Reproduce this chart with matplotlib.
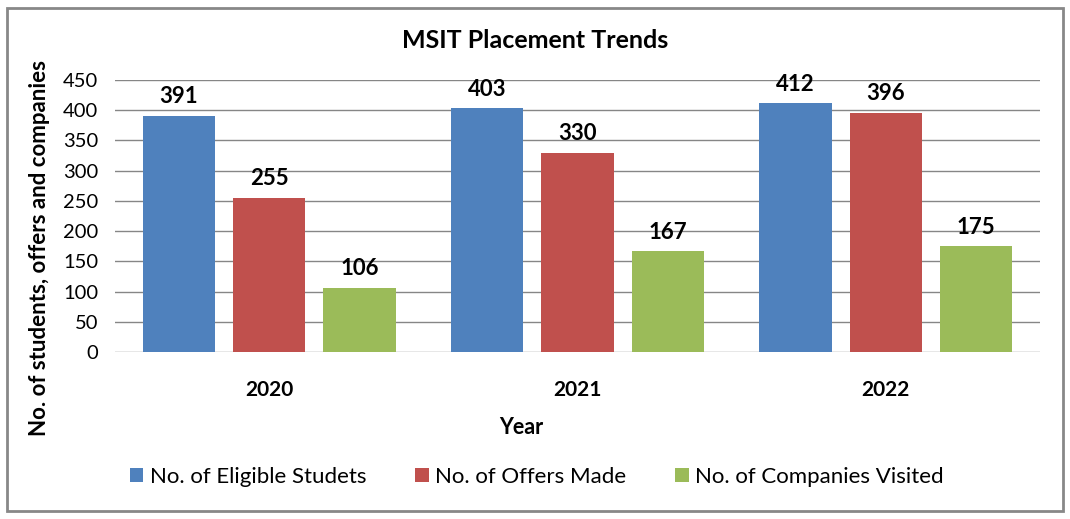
import numpy as np
import matplotlib
matplotlib.use('Agg')
import matplotlib.pyplot as plt
from matplotlib.patches import Rectangle
from matplotlib.ticker import MultipleLocator

years = ['2020', '2021', '2022']
eligible = [391, 403, 412]
offers = [255, 330, 396]
companies = [106, 167, 175]
series_names = ['No. of Eligible Studets', 'No. of Offers Made', 'No. of Companies Visited']
colors = ['#4F81BD', '#C0504D', '#9BBB59']

plt.rcParams['font.family'] = ['Lato', 'DejaVu Sans']


def plot_data():
    fig = plt.figure(figsize=(10.7, 5.19), dpi=100)
    ax = fig.add_axes([115 / 1070, 1 - 352 / 519, 925 / 1070, 272 / 519])

    x = np.arange(len(years))
    width = 0.234
    offsets = [-0.293, 0, 0.293]
    for vals, off, col, name in zip([eligible, offers, companies], offsets, colors, series_names):
        bars = ax.bar(x + off, vals, width, color=col, label=name, zorder=3)
        for b, v in zip(bars, vals):
            ax.text(b.get_x() + b.get_width() / 2, v + 14, str(v), ha='center', va='bottom',
                    fontsize=16, fontweight='bold', zorder=5)

    ax.set_xlim(-0.5, 2.5)
    ax.set_ylim(0, 450)
    ax.yaxis.set_major_locator(MultipleLocator(50))
    ax.grid(axis='y', color='#868686', linewidth=1, zorder=0)
    ax.set_xticks(x)
    ax.set_xticklabels(years, fontsize=15, fontweight='bold')
    ax.tick_params(axis='x', length=0, pad=20)
    ax.tick_params(axis='y', length=0, labelsize=14.5, pad=12)
    for s in ax.spines.values():
        s.set_visible(False)

    fig.text(521 / 1070, 1 - 428 / 519, 'Year', ha='center', va='center',
             fontsize=15.5, fontweight='bold')
    fig.text(40 / 1070, 1 - 248 / 519, 'No. of students, offers and companies', ha='center',
             va='center', rotation=90, fontsize=16, fontweight='bold')
    fig.text(535 / 1070, 1 - 40 / 519, 'MSIT Placement Trends', ha='center', va='center',
             fontsize=18, fontweight='bold')

    fig.legend(loc='center', bbox_to_anchor=(537 / 1070, 1 - 477 / 519), ncol=3, frameon=False,
               fontsize=16, handlelength=0.6, handleheight=0.6, handletextpad=0.3, columnspacing=2.2)

    fig.patches.append(Rectangle((7 / 1070, 8 / 519), 1056 / 1070, 503 / 519, transform=fig.transFigure,
                                 fill=False, edgecolor='#888888', linewidth=2))

    fig.savefig('out.png', dpi=100)


if __name__ == '__main__':
    plot_data()
